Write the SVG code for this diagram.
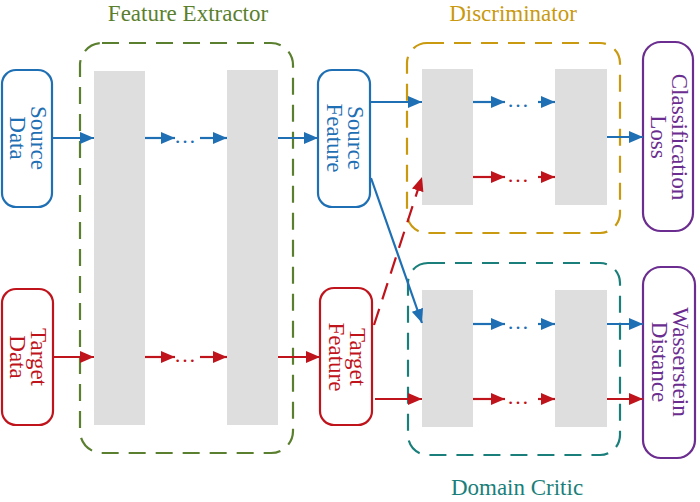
<svg xmlns="http://www.w3.org/2000/svg" width="700" height="502" viewBox="0 0 700 502">
<style>
text{font-family:"Liberation Serif","DejaVu Serif",serif;font-size:23px;text-anchor:middle}
.bar{fill:#dedede}
.b{stroke:#1f6fb4;fill:none;stroke-width:2.2}
.r{stroke:#c0141c;fill:none;stroke-width:2.2}
.node{fill:#fff;stroke-width:2.2}
.dot{font-size:22px}
</style>
<defs>
<marker id="ab" viewBox="0 0 14 12" refX="14" refY="6" markerWidth="14" markerHeight="12" orient="auto" markerUnits="userSpaceOnUse"><path d="M0,0 L14,6 L0,12z" fill="#1f6fb4"/></marker>
<marker id="ar" viewBox="0 0 14 12" refX="14" refY="6" markerWidth="14" markerHeight="12" orient="auto" markerUnits="userSpaceOnUse"><path d="M0,0 L14,6 L0,12z" fill="#c0141c"/></marker>
</defs>
<g id="feature-extractor">
<rect x="80" y="43" width="213" height="410" rx="22" fill="none" stroke="#5a7f2e" stroke-width="2.2" stroke-dasharray="17,10"/>
<rect class="bar" x="94" y="71" width="51" height="354"/>
<rect class="bar" x="227" y="70" width="51" height="355"/>
<text x="188" y="21" fill="#5a7f2e">Feature Extractor</text>
</g>
<g id="discriminator">
<rect x="407" y="43" width="213" height="190" rx="20" fill="none" stroke="#c9990f" stroke-width="2.2" stroke-dasharray="17,10"/>
<rect class="bar" x="422" y="69" width="51" height="136"/>
<rect class="bar" x="555" y="69" width="52" height="136"/>
<text x="513" y="21" fill="#c9990f">Discriminator</text>
</g>
<g id="domain-critic">
<rect x="408" y="263" width="212" height="192" rx="20" fill="none" stroke="#1a7f7a" stroke-width="2.2" stroke-dasharray="17,10"/>
<rect class="bar" x="422" y="290" width="51" height="137"/>
<rect class="bar" x="555" y="290" width="52" height="137"/>
<text x="517" y="495" fill="#1a7f7a">Domain Critic</text>
</g>
<g id="source-data">
<rect class="node" x="2" y="70" width="50" height="137" rx="14" stroke="#1f6fb4"/>
<text transform="rotate(90 27 138)" x="27" y="134" fill="#1f6fb4">Source</text>
<text transform="rotate(90 27 138)" x="27" y="155" fill="#1f6fb4">Data</text>
</g>
<g id="target-data">
<rect class="node" x="2" y="289" width="51" height="136" rx="14" stroke="#c0141c"/>
<text transform="rotate(90 27 357)" x="27" y="353" fill="#c0141c">Target</text>
<text transform="rotate(90 27 357)" x="27" y="374" fill="#c0141c">Data</text>
</g>
<g id="source-feature">
<rect class="node" x="318" y="70" width="52" height="137" rx="14" stroke="#1f6fb4"/>
<text transform="rotate(90 344 138)" x="344" y="134" fill="#1f6fb4">Source</text>
<text transform="rotate(90 344 138)" x="344" y="155" fill="#1f6fb4">Feature</text>
</g>
<g id="target-feature">
<rect class="node" x="320" y="288" width="52" height="137" rx="14" stroke="#c0141c"/>
<text transform="rotate(90 346 357)" x="346" y="353" fill="#c0141c">Target</text>
<text transform="rotate(90 346 357)" x="346" y="374" fill="#c0141c">Feature</text>
</g>
<g id="classification-loss">
<rect class="node" x="643" y="42" width="50" height="189" rx="18" stroke="#6b2d8f"/>
<text transform="rotate(90 668 137)" x="668" y="133" fill="#6b2d8f">Classification</text>
<text transform="rotate(90 668 137)" x="668" y="154" fill="#6b2d8f">Loss</text>
</g>
<g id="wasserstein-distance">
<rect class="node" x="643" y="267" width="52" height="191" rx="18" stroke="#6b2d8f"/>
<text transform="rotate(90 669 362)" x="669" y="358" fill="#6b2d8f">Wasserstein</text>
<text transform="rotate(90 669 362)" x="669" y="379" fill="#6b2d8f">Distance</text>
</g>
<g id="connectors">
<path class="b" d="M52,138H94" marker-end="url(#ab)"/>
<path class="b" d="M145,138H175" marker-end="url(#ab)"/>
<path class="b" d="M200,138H227" marker-end="url(#ab)"/>
<text class="dot" x="185" y="143" fill="#1f6fb4">…</text>
<path class="b" d="M278,138H318" marker-end="url(#ab)"/>
<path class="r" d="M53,357H94" marker-end="url(#ar)"/>
<path class="r" d="M145,357H175" marker-end="url(#ar)"/>
<path class="r" d="M200,357H227" marker-end="url(#ar)"/>
<text class="dot" x="185" y="362" fill="#c0141c">…</text>
<path class="r" d="M278,357H320" marker-end="url(#ar)"/>
<path class="b" d="M370,102H422" marker-end="url(#ab)"/>
<path class="b" d="M473,102H505" marker-end="url(#ab)"/>
<path class="b" d="M538,102H555" marker-end="url(#ab)"/>
<text class="dot" x="518" y="107" fill="#1f6fb4">…</text>
<path class="r" d="M473,177H505" marker-end="url(#ar)"/>
<path class="r" d="M538,177H555" marker-end="url(#ar)"/>
<text class="dot" x="518" y="182" fill="#c0141c">…</text>
<path class="b" d="M607,137H643" marker-end="url(#ab)"/>
<path class="b" d="M371,178L422,323" marker-end="url(#ab)"/>
<path class="r" d="M374,325L422,177" stroke-dasharray="17,10" marker-end="url(#ar)"/>
<path class="r" d="M375,399H422" marker-end="url(#ar)"/>
<path class="b" d="M473,324H505" marker-end="url(#ab)"/>
<path class="b" d="M538,324H555" marker-end="url(#ab)"/>
<text class="dot" x="518" y="329" fill="#1f6fb4">…</text>
<path class="r" d="M473,399H505" marker-end="url(#ar)"/>
<path class="r" d="M538,399H555" marker-end="url(#ar)"/>
<text class="dot" x="518" y="404" fill="#c0141c">…</text>
<path class="b" d="M607,324H643" marker-end="url(#ab)"/>
<path class="r" d="M607,399H643" marker-end="url(#ar)"/>
</g>
</svg>
